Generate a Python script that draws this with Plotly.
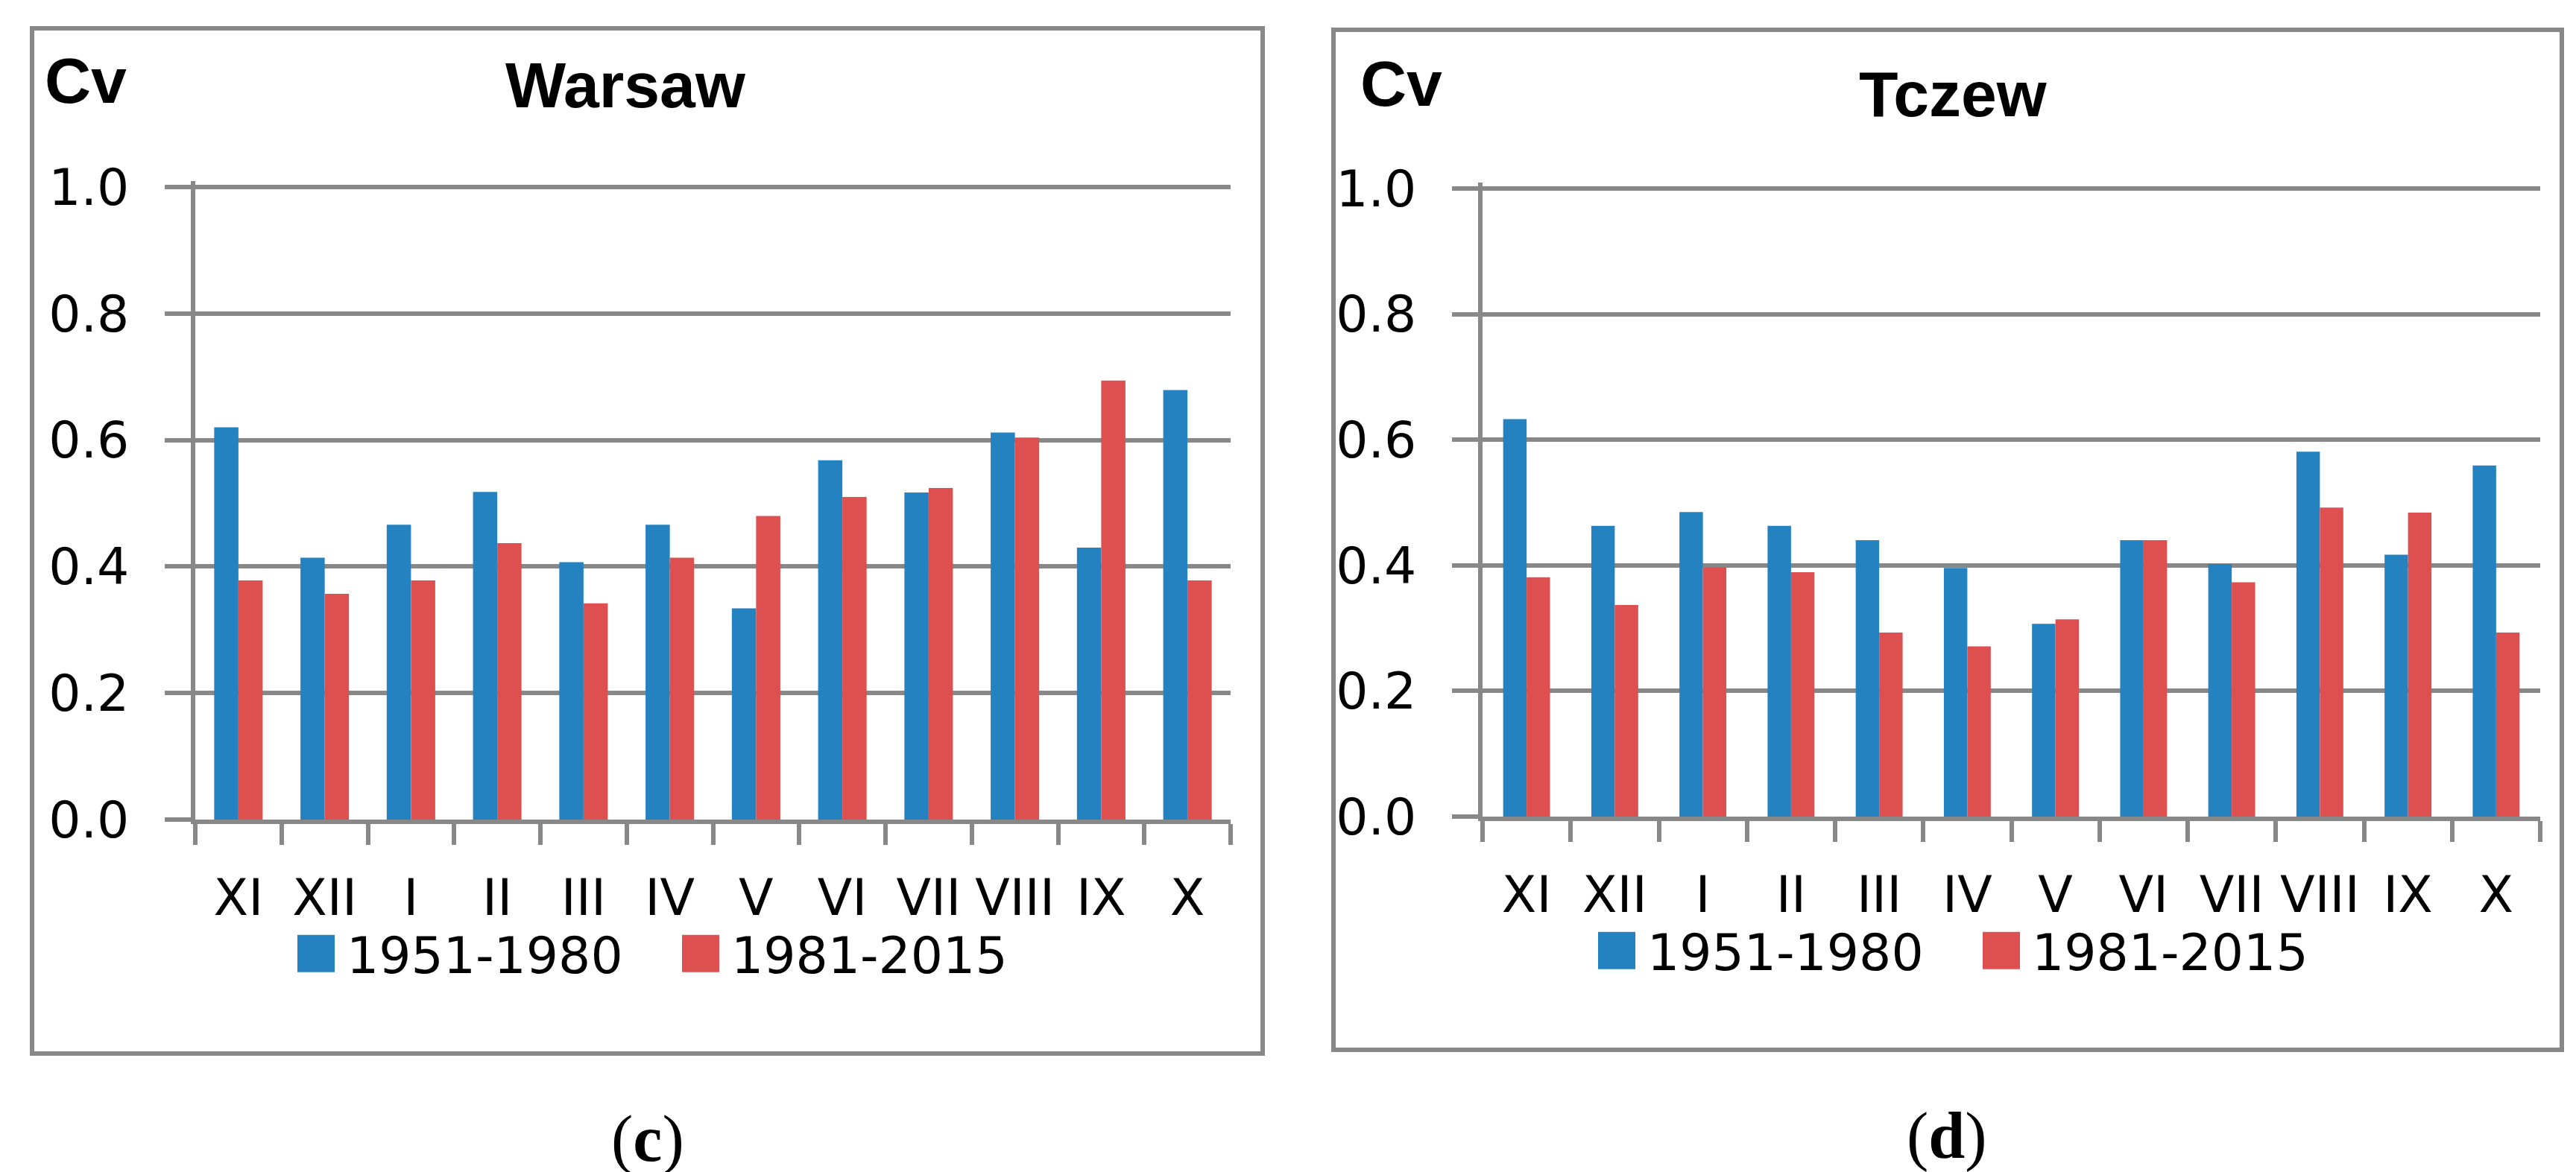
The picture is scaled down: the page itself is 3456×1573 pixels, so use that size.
import plotly.graph_objects as go

# ---------------- data ----------------
months = ["XI", "XII", "I", "II", "III", "IV", "V", "VI", "VII", "VIII", "IX", "X"]
series_names = ["1951-1980", "1981-2015"]

warsaw_1951_1980 = [0.620, 0.414, 0.466, 0.518, 0.407, 0.466, 0.334, 0.568, 0.517, 0.612, 0.430, 0.679]
warsaw_1981_2015 = [0.378, 0.357, 0.378, 0.437, 0.342, 0.414, 0.480, 0.510, 0.524, 0.604, 0.694, 0.378]

tczew_1951_1980 = [0.633, 0.463, 0.485, 0.463, 0.440, 0.396, 0.307, 0.440, 0.402, 0.581, 0.417, 0.559]
tczew_1981_2015 = [0.381, 0.337, 0.397, 0.389, 0.293, 0.271, 0.314, 0.440, 0.373, 0.492, 0.484, 0.293]

y_tick_values = [0.0, 0.2, 0.4, 0.6, 0.8, 1.0]
y_tick_labels = ["0.0", "0.2", "0.4", "0.6", "0.8", "1.0"]

panel_titles = ["Warsaw", "Tczew"]
panel_captions = ["c", "d"]
y_label = "Cv"

# ---------------- style ----------------
W, H = 3456, 1573
BLUE = "#2482C1"
RED = "#DE5050"
GRAY = "#888888"
TXT = "DejaVu Sans"
BOLD = "Liberation Sans"
SERIF = "Liberation Serif"
Y_TOP = 1.01  # a little headroom so the 1.0 gridline is drawn


def px(x):
    return x / W


def py(y):
    return 1 - y / H


def ydomain(y0_px, y1_px):
    # y0_px: pixel row of value 0, y1_px: pixel row of value 1.0
    top = y0_px - (y0_px - y1_px) * Y_TOP
    return [py(y0_px), py(top)]


fig = go.Figure()

panels = [
    dict(x="x", y="y", leg="legend", b=warsaw_1951_1980, r=warsaw_1981_2015, bw=0.281),
    dict(x="x2", y="y2", leg="legend2", b=tczew_1951_1980, r=tczew_1981_2015, bw=0.266),
]

for i, p in enumerate(panels):
    fig.add_trace(go.Bar(x=months, y=p["b"], name=series_names[0], xaxis=p["x"], yaxis=p["y"],
                         marker=dict(color=BLUE, line=dict(width=0)), width=p["bw"], offset=-p["bw"],
                         legend=p["leg"], hoverinfo="x+y+name"))
    fig.add_trace(go.Bar(x=months, y=p["r"], name=series_names[1], xaxis=p["x"], yaxis=p["y"],
                         marker=dict(color=RED, line=dict(width=0)), width=p["bw"], offset=0,
                         legend=p["leg"], hoverinfo="x+y+name"))

xax = dict(type="category", categoryorder="array", categoryarray=months,
           showline=True, linecolor=GRAY, linewidth=6, showgrid=False, zeroline=False,
           ticks="outside", tickson="boundaries", ticklen=28, tickwidth=6, tickcolor=GRAY,
           tickangle=0, automargin=False,
           tickfont=dict(family=TXT, size=68, color="#000000"), ticklabelstandoff=40,
           fixedrange=True)
yax = dict(range=[0, Y_TOP], tickvals=y_tick_values, ticktext=y_tick_labels,
           showline=True, linecolor=GRAY, linewidth=6, showgrid=True, gridcolor=GRAY, gridwidth=6,
           zeroline=False, ticks="outside", ticklen=35, tickwidth=6, tickcolor=GRAY,
           automargin=False,
           tickfont=dict(family=TXT, size=68, color="#000000"), ticklabelstandoff=34,
           fixedrange=True)

legend_common = dict(orientation="h", xanchor="left", yanchor="middle",
                     font=dict(family=TXT, size=68, color="#000000"),
                     itemwidth=72, entrywidth=429, entrywidthmode="pixels",
                     bgcolor="rgba(0,0,0,0)", borderwidth=0, itemclick=False, itemdoubleclick=False)

fig.update_layout(
    template="none",
    width=W, height=H, margin=dict(l=0, r=0, t=0, b=0, pad=0, autoexpand=False),
    paper_bgcolor="white", plot_bgcolor="white",
    barmode="overlay",
    xaxis=dict(xax, domain=[px(254), px(1643)], anchor="y"),
    yaxis=dict(yax, domain=ydomain(1092, 243), anchor="x"),
    xaxis2=dict(xax, domain=[px(1981), px(3400)], anchor="y2"),
    yaxis2=dict(yax, domain=ydomain(1088, 245), anchor="x2"),
    legend=dict(legend_common, x=px(375), y=py(1272)),
    legend2=dict(legend_common, x=px(2120), y=py(1268)),
    showlegend=True,
)

# panel frames
for (x0, y0, x1, y1) in [(35, 30, 1686, 1406), (1781, 32, 3429, 1401)]:
    fig.add_shape(type="rect", xref="paper", yref="paper",
                  x0=px(x0), x1=px(x1), y0=py(y0), y1=py(y1),
                  line=dict(color=GRAY, width=6), fillcolor="rgba(0,0,0,0)", layer="below")

# titles, axis labels, captions
title_pos = [(831, 106), (2612, 118)]
cv_pos = [(107, 100), (1872, 104)]
cap_pos = [(861, 1520), (2604, 1516)]
for i in range(2):
    fig.add_annotation(text="<b>%s</b>" % panel_titles[i], xref="paper", yref="paper",
                       x=px(title_pos[i][0]), y=py(title_pos[i][1]), xanchor="center", yanchor="middle",
                       showarrow=False, font=dict(family=BOLD, size=86, color="#000000"))
    fig.add_annotation(text="<b>%s</b>" % y_label, xref="paper", yref="paper",
                       x=px(cv_pos[i][0]), y=py(cv_pos[i][1]), xanchor="center", yanchor="middle",
                       showarrow=False, font=dict(family=BOLD, size=86, color="#000000"))
    fig.add_annotation(text="(<b>%s</b>)" % panel_captions[i], xref="paper", yref="paper",
                       x=px(cap_pos[i][0]), y=py(cap_pos[i][1]), xanchor="center", yanchor="middle",
                       showarrow=False, font=dict(family=SERIF, size=88, color="#000000"))

post = """
var gd = document.getElementById('{plot_id}');
function bigLegend(){
  gd.querySelectorAll('.legendpoints path').forEach(function(p){
    p.setAttribute('d','M25,25H-25V-25H25Z');
  });
}
bigLegend();
gd.on('plotly_afterplot', bigLegend);
"""

fig.write_html("out.html", post_script=post, config={"displayModeBar": False})
